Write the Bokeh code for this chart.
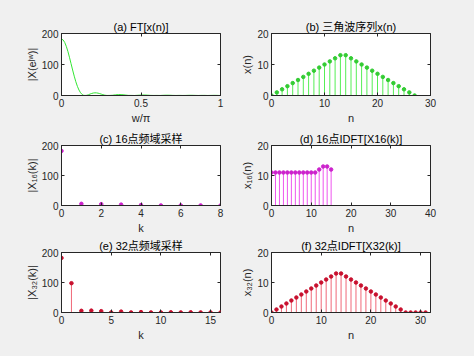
from bokeh.plotting import figure
from bokeh.layouts import column, row
from bokeh.models import FixedTicker, LinearAxis, Range1d
from bokeh.embed import file_html
from bokeh.resources import INLINE

# ---------------- data ----------------
# (a) |X(e^jw)| sampled along w/pi
w_over_pi = [0.00, 0.01, 0.02, 0.03, 0.04, 0.05, 0.06, 0.07, 0.08, 0.09,
             0.10, 0.11, 0.12, 0.13, 0.14, 0.15, 0.16, 0.17, 0.18, 0.19,
             0.20, 0.21, 0.22, 0.23, 0.24, 0.25, 0.26, 0.27, 0.28, 0.29,
             0.30, 0.32, 0.34, 0.36, 0.38, 0.40, 0.42, 0.44, 0.46, 0.48,
             0.50, 0.52, 0.54, 0.56, 0.58, 0.60, 0.62, 0.64, 0.66, 0.68,
             0.70, 0.72, 0.74, 0.76, 0.78, 0.80, 0.82, 0.84, 0.86, 0.88,
             0.90, 0.92, 0.94, 0.96, 0.98, 1.00]
X_mag = [182.0, 179.3, 171.4, 158.8, 142.5, 123.4, 102.9, 82.2, 62.4, 44.6,
         29.5, 17.5, 8.75, 3.18, 0.37, 0.23, 0.75, 2.62, 4.77, 6.70,
         8.06, 8.65, 8.44, 7.53, 6.12, 4.46, 2.81, 1.39, 0.37, 0.17,
         0.23, 0.73, 2.20, 3.05, 2.76, 1.62, 0.37, 0.26, 0.05, 0.71,
         1.41, 1.58, 1.13, 0.38, 0.20, 0.28, 0.12, 0.67, 0.99, 0.86,
         0.38, 0.13, 0.36, 0.18, 0.24, 0.62, 0.68, 0.39, 0.06, 0.39,
         0.38, 0.06, 0.33, 0.53, 0.39, 0.0]

# (b) triangle sequence x(n)
n_x = list(range(28))
x_n = [0, 1, 2, 3, 4, 5, 6, 7, 8, 9, 10, 11, 12, 13,
       13, 12, 11, 10, 9, 8, 7, 6, 5, 4, 3, 2, 1, 0]

# (c) 16-point frequency samples |X16(k)|
k16 = list(range(16))
X16_mag = [182.0, 5.59, 4.46, 2.94, 1.41, 0.26, 0.32, 0.33,
           0.0, 0.33, 0.32, 0.26, 1.41, 2.94, 4.46, 5.59]

# (d) 16-point IDFT x16(n)
n16 = list(range(16))
x16 = [11, 11, 11, 11, 11, 11, 11, 11, 11, 11, 11, 11, 12, 13, 13, 12]

# (e) 32-point frequency samples |X32(k)|
k32 = list(range(32))
X32_mag = [182.0, 97.7, 5.59, 6.26, 4.46, 0.25, 2.94, 0.23, 1.41, 0.29,
           0.26, 0.71, 0.32, 0.70, 0.33, 0.29, 0.0, 0.29, 0.33, 0.70,
           0.32, 0.71, 0.26, 0.29, 1.41, 0.23, 2.94, 0.25, 4.46, 6.26,
           5.59, 97.7]

# (f) 32-point IDFT x32(n)
n32 = list(range(32))
x32 = [0, 1, 2, 3, 4, 5, 6, 7, 8, 9, 10, 11, 12, 13,
       13, 12, 11, 10, 9, 8, 7, 6, 5, 4, 3, 2, 1, 0, 0, 0, 0, 0]

titles = ["(a) FT[x(n)]", "(b) 三角波序列x(n)", "(c) 16点频域采样",
          "(d) 16点IDFT[X16(k)]", "(e) 32点频域采样", "(f) 32点IDFT[X32(k)]"]
xlabels = ["w/π", "n", "k", "n", "k", "n"]
ylabels = ["|X(eʲʷ)|", "x(n)", "|X₁₆(k)|", "x₁₆(n)", "|X₃₂(k)|", "x₃₂(n)"]
xlims = [(0, 1), (0, 30), (0, 8), (0, 40), (0, 16), (0, 32)]
ylims = [(0, 200), (0, 20), (0, 200), (0, 20), (0, 200), (0, 20)]
xticks = [[0, 0.5, 1], [0, 10, 20, 30], [0, 2, 4, 6, 8], [0, 10, 20, 30, 40],
          [0, 5, 10, 15], [0, 10, 20, 30]]
yticks = [[0, 100, 200], [0, 10, 20], [0, 100, 200], [0, 10, 20], [0, 100, 200], [0, 10, 20]]

FONT = "'Liberation Sans', 'Noto Sans CJK SC', sans-serif"
TXT = "#262626"

# layout borders (px)
col_b = [(61, 17), (34, 44)]
row_b = [(33, 62, 27), (19, 60, 30), (16, 60, 49)]


def make(i):
    r, c = divmod(i, 2)
    bl, br = col_b[c]
    bt, fh, bb = row_b[r]
    p = figure(frame_width=159, frame_height=fh,
               x_range=Range1d(*xlims[i]), y_range=Range1d(*ylims[i]),
               output_backend="svg", toolbar_location=None,
               min_border_left=bl, min_border_right=br,
               min_border_top=bt, min_border_bottom=bb,
               title=titles[i])
    p.background_fill_color = "white"
    p.border_fill_color = "#F0F0F0"
    p.outline_line_color = TXT
    p.outline_line_width = 1
    p.grid.visible = False
    p.title.align = "center"
    p.title.text_font = FONT
    p.title.text_font_size = "11px"
    p.title.text_font_style = "normal"
    p.title.text_color = "black"
    p.title.standoff = 1
    p.title.offset = 0
    for ax, tk, lab in ((p.xaxis[0], xticks[i], xlabels[i]), (p.yaxis[0], yticks[i], ylabels[i])):
        ax.ticker = FixedTicker(ticks=tk)
        ax.axis_label = lab
        ax.axis_label_text_font = FONT
        ax.axis_label_text_font_size = "11px"
        ax.axis_label_text_font_style = "normal"
        ax.axis_label_text_color = TXT
        ax.axis_label_standoff = 2
        ax.major_label_text_font = FONT
        ax.major_label_text_font_size = "10px"
        ax.major_label_text_color = TXT
        ax.major_label_standoff = 3
        ax.major_tick_in = 3
        ax.major_tick_out = 0
        ax.major_tick_line_color = TXT
        ax.minor_tick_line_color = None
        ax.axis_line_color = TXT
    p.yaxis[0].axis_label_standoff = 1
    # mirrored tick marks on the top and right edges (no labels: minor ticks only)
    for loc, tk in (("above", xticks[i]), ("right", yticks[i])):
        ea = LinearAxis(ticker=FixedTicker(ticks=[], minor_ticks=tk),
                        major_tick_line_color=None,
                        minor_tick_in=3, minor_tick_out=0,
                        minor_tick_line_color=TXT,
                        axis_line_color=None)
        p.add_layout(ea, loc)
    return p


figs = [make(i) for i in range(6)]

# (a) continuous spectrum
figs[0].line(w_over_pi, X_mag, line_color="#33E633", line_width=1)


def stem(p, xs, ys, lc, mc):
    p.segment(x0=xs, y0=[0] * len(xs), x1=xs, y1=ys, line_color=lc, line_width=1)
    p.scatter(xs, ys, size=3.5, fill_color=mc, line_color=mc)


stem(figs[1], n_x, x_n, "#55EE55", "#33CC33")
stem(figs[2], k16, X16_mag, "#EE55EE", "#CC22CC")
stem(figs[3], n16, x16, "#EE55EE", "#CC22CC")
stem(figs[4], k32, X32_mag, "#F06878", "#C8102E")
stem(figs[5], n32, x32, "#F06878", "#C8102E")

layout = column(row(figs[0], figs[1]), row(figs[2], figs[3]), row(figs[4], figs[5]))
layout.styles = {"background-color": "#F0F0F0"}

open("out.html", "w").write(file_html(layout, INLINE))
